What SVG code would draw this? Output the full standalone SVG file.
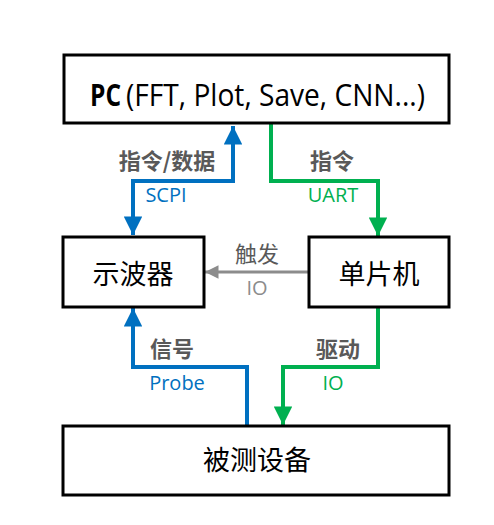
<svg xmlns="http://www.w3.org/2000/svg" width="494" height="525" viewBox="0 0 494 525">
<defs>
<style>
.box{fill:#fff;stroke:#000;stroke-width:3}
.cn{font-family:"Noto Sans CJK SC","Noto Sans",sans-serif;font-size:27px;fill:#000;text-anchor:middle}
.lab{font-family:"Noto Sans CJK SC","Noto Sans",sans-serif;font-size:22px;font-weight:bold;fill:#595959;text-anchor:middle}
.en{font-family:"Open Sans","Noto Sans",sans-serif;font-size:20px;text-anchor:middle}
.pc{font-family:"Open Sans","Noto Sans",sans-serif;font-size:31px;fill:#000}
.blue{fill:none;stroke:#0070C0;stroke-width:4}
.green{fill:none;stroke:#00B050;stroke-width:4}
.gray{fill:none;stroke:#8C8C8C;stroke-width:3}
</style>
<marker id="ab" viewBox="0 0 10 10" refX="10" refY="5" markerWidth="4.8" markerHeight="4.6" orient="auto-start-reverse" markerUnits="strokeWidth"><path d="M0,0 L10,5 L0,10 z" fill="#0070C0"/></marker>
<marker id="ag" viewBox="0 0 10 10" refX="10" refY="5" markerWidth="4.8" markerHeight="4.6" orient="auto" markerUnits="strokeWidth"><path d="M0,0 L10,5 L0,10 z" fill="#00B050"/></marker>
<marker id="ay" viewBox="0 0 10 10" refX="10" refY="5" markerWidth="4.5" markerHeight="4.5" orient="auto" markerUnits="strokeWidth"><path d="M0,0 L10,5 L0,10 z" fill="#8C8C8C"/></marker>
</defs>
<g id="connectors">
<path class="blue" d="M133,235 V181 H233 V126" marker-start="url(#ab)" marker-end="url(#ab)"/>
<path class="green" d="M271,124 V181 H378 V236" marker-end="url(#ag)"/>
<path class="gray" d="M308,272 H205" marker-end="url(#ay)"/>
<path class="blue" d="M247,425 V367 H133 V308" marker-end="url(#ab)"/>
<path class="green" d="M378,308 V367 H283 V425" marker-end="url(#ag)"/>
<text class="lab" x="167" y="169">指令/数据</text>
<text class="en" x="166" y="202" fill="#0070C0">SCPI</text>
<text class="lab" x="332" y="169">指令</text>
<text class="en" x="333" y="202" fill="#00B050">UART</text>
<text class="lab" x="257" y="262" fill="#8C8C8C" style="font-weight:normal">触发</text>
<text class="en" x="257" y="295" fill="#8C8C8C">IO</text>
<text class="lab" x="172" y="357">信号</text>
<text class="en" x="177" y="390" fill="#0070C0">Probe</text>
<text class="lab" x="338" y="357">驱动</text>
<text class="en" x="333" y="390" fill="#00B050">IO</text>
</g>
<g id="pc">
<rect class="box" x="64" y="55" width="385" height="68"/>
<text class="pc" x="90" y="106" font-weight="bold" textLength="31" lengthAdjust="spacingAndGlyphs">PC</text>
<text class="pc" x="126" y="106" textLength="299" lengthAdjust="spacingAndGlyphs">(FFT, Plot, Save, CNN...)</text>
</g>
<g id="scope">
<rect class="box" x="63" y="237" width="141" height="70"/>
<text class="cn" x="133" y="284">示波器</text>
</g>
<g id="mcu">
<rect class="box" x="309" y="237" width="140" height="70"/>
<text class="cn" x="379" y="284">单片机</text>
</g>
<g id="dut">
<rect class="box" x="63" y="426" width="386" height="69"/>
<text class="cn" x="257" y="470">被测设备</text>
</g>
</svg>
